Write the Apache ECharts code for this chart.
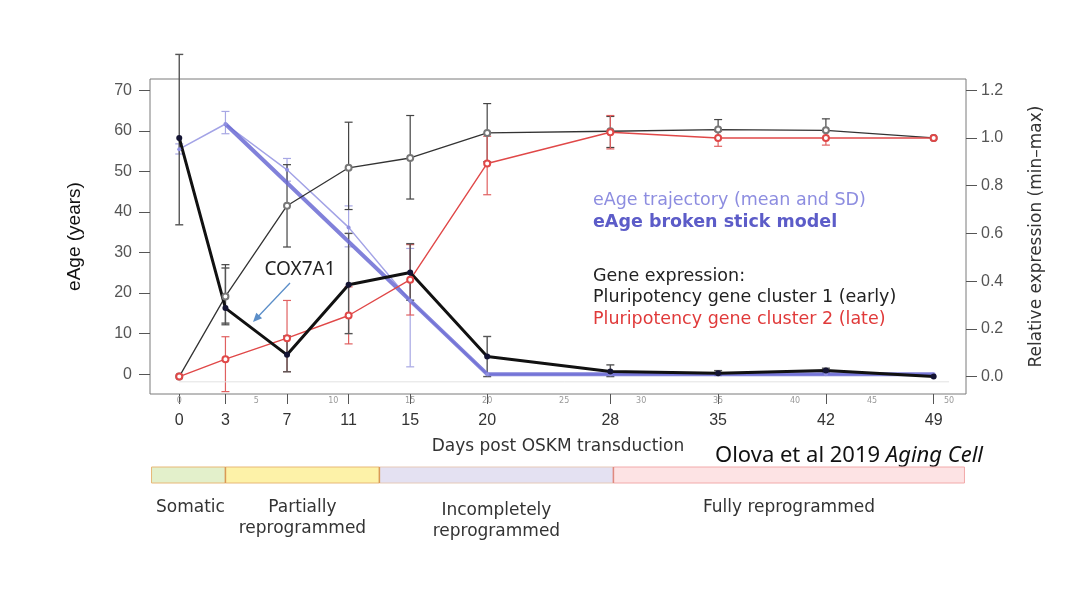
<!DOCTYPE html>
<html>
<head>
<meta charset="utf-8">
<script src="https://cdn.jsdelivr.net/npm/echarts@6/dist/echarts.min.js"></script>
<style>
  html, body { margin: 0; padding: 0; background: #fff; }
  #chart { width: 1078px; height: 590px; }
</style>
</head>
<body>
<div id="chart"></div>
<script>
// 采样天数
var days = [0, 3, 7, 11, 15, 20, 28, 35, 42, 49];
var tickDays = [0, 3, 7, 11, 15, 20, 28, 35, 42, 49];
var minorDays = [0, 5, 10, 15, 20, 25, 30, 35, 40, 45, 50];
var ageTicks = [0, 10, 20, 30, 40, 50, 60, 70];
var exprTicks = [0, 0.2, 0.4, 0.6, 0.8, 1.0, 1.2];

// eAge 轨迹 (均值 和 SD)
var eAgeMean = [55.5, 61.7, 50.4, 36.2, 18.1, 0, 0, 0, 0, 0];
var eAgeLo = [54.3, 59.3, 47.6, 31.4, 1.8, null, null, null, null, null];
var eAgeHi = [56.8, 64.8, 53.2, 41.5, 31.0, null, null, null, null, null];

// broken stick 模型
var stickDays = [3, 20, 49];
var stickAge = [61.7, 0, 0];

// COX7A1 (相对表达)
var cox = [1.0, 0.287, 0.091, 0.385, 0.436, 0.084, 0.021, 0.014, 0.025, 0.0];
var coxLo = [0.636, 0.224, 0.02, 0.18, 0.32, 0.0, 0.0, 0.005, 0.015, null];
var coxHi = [1.35, 0.455, 0.17, 0.60, 0.557, 0.168, 0.049, 0.025, 0.035, null];

// 多能性基因簇 1 (早期)
var early = [0, 0.336, 0.716, 0.875, 0.916, 1.021, 1.028, 1.035, 1.032, 1.0];
var earlyLo = [null, 0.217, 0.543, 0.70, 0.744, 0.90, 0.96, 1.0, 1.0, null];
var earlyHi = [null, 0.469, 0.888, 1.066, 1.094, 1.144, 1.09, 1.077, 1.08, null];

// 多能性基因簇 2 (晚期)
var late = [0, 0.073, 0.161, 0.256, 0.406, 0.893, 1.024, 1.0, 1.0, 1.0];
var lateLo = [null, -0.063, 0.021, 0.137, 0.258, 0.762, 0.954, 0.965, 0.97, null];
var lateHi = [null, 0.167, 0.319, 0.376, 0.553, 1.007, 1.094, 1.028, 1.03, null];

// 底部浅灰参考线
var baseDays = [0, 50];
var baseAge = [-1.9, -1.9];

// 阶段条
var phaseNames = ['Somatic', 'Partially\nreprogrammed', 'Incompletely\nreprogrammed', 'Fully reprogrammed'];
var phaseStart = [-1.8, 3, 13, 28.2];
var phaseEnd = [3, 13, 28.2, 51];
var phaseColors = ['#e3f0cb', '#fdf2a8', '#e4e1f2', '#fde3e4'];
var phaseEdge = ['#e8b877', '#e8b877', '#e6c9b8', '#f2aaaa'];

var chart = echarts.init(document.getElementById('chart'));

function pairs(xs, ys) {
  return xs.map(function (x, i) { return [x, ys[i]]; });
}
function errData(lo, hi) {
  var out = [];
  days.forEach(function (d, i) {
    if (lo[i] != null) out.push([d, lo[i], hi[i]]);
  });
  return out;
}
function errRender(color, width) {
  return function (params, api) {
    var top = api.coord([api.value(0), api.value(2)]);
    var bot = api.coord([api.value(0), api.value(1)]);
    var x = top[0], cw = 4;
    var st = { stroke: color, lineWidth: width };
    return {
      type: 'group',
      children: [
        { type: 'line', shape: { x1: x, y1: top[1], x2: x, y2: bot[1] }, style: st },
        { type: 'line', shape: { x1: x - cw, y1: top[1], x2: x + cw, y2: top[1] }, style: st },
        { type: 'line', shape: { x1: x - cw, y1: bot[1], x2: x + cw, y2: bot[1] }, style: st }
      ]
    };
  };
}

var txt = '#333';
var option = {
  animation: false,
  grid: {
    left: 150, right: 112, top: 79, bottom: 196,
    show: true, borderColor: '#7a7a7a', borderWidth: 1
  },
  xAxis: [{
    type: 'value', min: -1.9, max: 51.1,
    name: 'Days post OSKM transduction',
    nameLocation: 'middle', nameGap: 44,
    nameTextStyle: { color: txt, fontSize: 17, fontFamily: 'DejaVu Sans' },
    axisLine: { show: false, onZero: false },
    axisTick: { show: true, length: 10, customValues: tickDays, lineStyle: { color: '#555' } },
    axisLabel: { customValues: tickDays, margin: 19, color: txt, fontSize: 16, fontFamily: 'Liberation Sans' },
    splitLine: { show: false }
  }, {
    type: 'value', min: -1.9, max: 51.1, position: 'bottom',
    axisLine: { show: false, onZero: false },
    axisTick: { show: false },
    axisLabel: { customValues: minorDays, margin: 3, color: '#999', fontSize: 8, fontFamily: 'DejaVu Sans' },
    splitLine: { show: false }
  }],
  yAxis: [{
    type: 'value', min: -4.9, max: 72.8,
    name: 'eAge (years)', nameLocation: 'middle', nameGap: 66, nameRotate: 90,
    nameTextStyle: { color: '#111', fontSize: 19, fontFamily: 'Liberation Sans' },
    axisLine: { show: false, onZero: false },
    axisTick: { show: true, length: 11, customValues: ageTicks, lineStyle: { color: '#555' } },
    axisLabel: { customValues: ageTicks, margin: 18, color: '#555', fontSize: 16, fontFamily: 'Liberation Sans' },
    splitLine: { show: false }
  }, {
    type: 'value', min: -0.073, max: 1.247, position: 'right',
    name: 'Relative expression (min\u2013max)', nameLocation: 'middle', nameGap: 62, nameRotate: 90,
    nameTextStyle: { color: txt, fontSize: 17, fontFamily: 'DejaVu Sans' },
    axisLine: { show: false, onZero: false },
    axisTick: { show: true, length: 11, customValues: exprTicks, lineStyle: { color: '#555' } },
    axisLabel: {
      customValues: exprTicks, margin: 15, color: '#555', fontSize: 16, fontFamily: 'Liberation Sans',
      formatter: function (v) { return v.toFixed(1); }
    },
    splitLine: { show: false }
  }],
  series: [{
    name: 'base', type: 'line', data: pairs(baseDays, baseAge),
    symbol: 'none', lineStyle: { color: '#e2e2e2', width: 1 }, silent: true
  }, {
    name: 'eAge SD', type: 'custom', renderItem: errRender('#a7a7e4', 1.2),
    data: errData(eAgeLo, eAgeHi), encode: { x: 0, y: [1, 2] }
  }, {
    name: 'eAge trajectory (mean and SD)', type: 'line', data: pairs(days, eAgeMean),
    symbol: 'circle', symbolSize: 4,
    lineStyle: { color: '#a3a3e6', width: 1.5 }, itemStyle: { color: '#8f8fe0' }
  }, {
    name: 'eAge broken stick model', type: 'line', data: pairs(stickDays, stickAge),
    symbol: 'none', lineStyle: { color: '#6b6bd4', width: 4, opacity: 0.85 }
  }, {
    name: 'cluster 1 err', type: 'custom', yAxisIndex: 1, renderItem: errRender('#444', 1.2),
    data: errData(earlyLo, earlyHi), encode: { x: 0, y: [1, 2] }
  }, {
    name: 'Pluripotency gene cluster 1 (early)', type: 'line', yAxisIndex: 1, data: pairs(days, early),
    symbol: 'emptyCircle', symbolSize: 6,
    lineStyle: { color: '#333', width: 1.3 }, itemStyle: { color: '#777', borderWidth: 1.2 }
  }, {
    name: 'cluster 2 err', type: 'custom', yAxisIndex: 1, renderItem: errRender('#e06060', 1.2),
    data: errData(lateLo, lateHi), encode: { x: 0, y: [1, 2] }
  }, {
    name: 'Pluripotency gene cluster 2 (late)', type: 'line', yAxisIndex: 1, data: pairs(days, late),
    symbol: 'emptyCircle', symbolSize: 6,
    lineStyle: { color: '#e04848', width: 1.4 }, itemStyle: { color: '#e04848', borderWidth: 1.2 }
  }, {
    name: 'COX7A1 err', type: 'custom', yAxisIndex: 1, renderItem: errRender('#555', 1.4),
    data: errData(coxLo, coxHi), encode: { x: 0, y: [1, 2] }
  }, {
    name: 'COX7A1', type: 'line', yAxisIndex: 1, data: pairs(days, cox),
    symbol: 'circle', symbolSize: 6,
    lineStyle: { color: '#111', width: 3 }, itemStyle: { color: '#141433' }
  }]
};
chart.setOption(option);

// 文字说明 箭头 阶段条
var graphics = [];
var legendLines = [
  { t: 'eAge trajectory (mean and SD)', y: 200, c: '#8d8de0', w: 'normal' },
  { t: 'eAge broken stick model', y: 222.7, c: '#5c5cc8', w: 'bold' },
  { t: 'Gene expression:', y: 276, c: '#222', w: 'normal' },
  { t: 'Pluripotency gene cluster 1 (early)', y: 297.3, c: '#222', w: 'normal' },
  { t: 'Pluripotency gene cluster 2 (late)', y: 319.3, c: '#e03a3a', w: 'normal' }
];
legendLines.forEach(function (l) {
  graphics.push({
    type: 'text', z: 100,
    style: { x: 593, y: l.y, text: l.t, fill: l.c, font: l.w + ' 17.5px "DejaVu Sans"', verticalAlign: 'middle' }
  });
});
graphics.push({
  type: 'text', z: 100,
  style: { x: 300, y: 270, text: 'COX7A1', fill: '#222', font: '19px "Noto Sans"', align: 'center', verticalAlign: 'middle' }
});
// 箭头
var a0 = [290, 283], a1 = [253, 322];
var dx = a1[0] - a0[0], dy = a1[1] - a0[1], len = Math.sqrt(dx * dx + dy * dy);
var ux = dx / len, uy = dy / len, hl = 9, hw = 4;
graphics.push({
  type: 'line', z: 100,
  shape: { x1: a0[0], y1: a0[1], x2: a1[0] - ux * hl * 0.8, y2: a1[1] - uy * hl * 0.8 },
  style: { stroke: '#5b8ec8', lineWidth: 1.3 }
});
graphics.push({
  type: 'polygon', z: 100,
  shape: { points: [a1, [a1[0] - ux * hl - uy * hw, a1[1] - uy * hl + ux * hw], [a1[0] - ux * hl + uy * hw, a1[1] - uy * hl - ux * hw]] },
  style: { fill: '#5b8ec8' }
});
graphics.push({
  type: 'text', z: 100,
  style: {
    x: 715, y: 456, verticalAlign: 'middle',
    text: '{n|Olova et al 2019 }{i|Aging Cell}',
    rich: {
      n: { fontSize: 22, fontFamily: 'Noto Sans', fill: '#111' },
      i: { fontSize: 22, fontFamily: 'Noto Sans', fontStyle: 'italic', fill: '#111' }
    }
  }
});

var barTop = 467, barH = 16;
var labelY = [508, 518, 521, 508];
phaseNames.forEach(function (name, i) {
  var x0 = chart.convertToPixel({ xAxisIndex: 0 }, phaseStart[i]);
  var x1 = chart.convertToPixel({ xAxisIndex: 0 }, phaseEnd[i]);
  graphics.push({
    type: 'rect', z: 100,
    shape: { x: x0, y: barTop, width: x1 - x0, height: barH },
    style: { fill: phaseColors[i], stroke: phaseEdge[i], lineWidth: 1 }
  });
  graphics.push({
    type: 'text', z: 100,
    style: {
      x: (x0 + x1) / 2 + (i === 0 ? 2 : 0), y: labelY[i], text: name,
      fill: '#333', font: '17px "DejaVu Sans"', align: 'center', verticalAlign: 'middle', lineHeight: 21
    }
  });
});
[3, 13].forEach(function (d) {
  var x = chart.convertToPixel({ xAxisIndex: 0 }, d);
  graphics.push({
    type: 'line', z: 101,
    shape: { x1: x, y1: barTop, x2: x, y2: barTop + barH },
    style: { stroke: '#d99a55', lineWidth: 1.5 }
  });
});
var xr = chart.convertToPixel({ xAxisIndex: 0 }, 28.2);
graphics.push({
  type: 'line', z: 101,
  shape: { x1: xr, y1: barTop, x2: xr, y2: barTop + barH },
  style: { stroke: '#e08a80', lineWidth: 1.5 }
});

chart.setOption({ graphic: graphics });

window.addEventListener('resize', function () {
  chart.resize();
});
</script>
</body>
</html>
